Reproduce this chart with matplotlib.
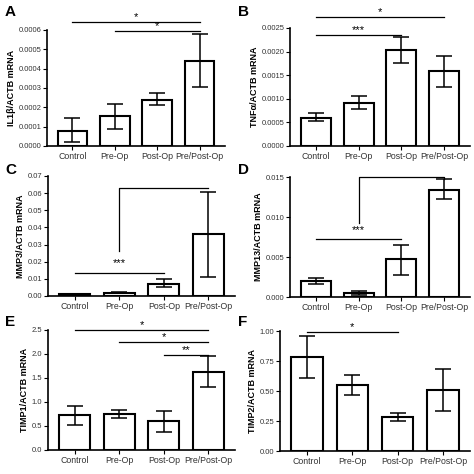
import matplotlib
matplotlib.use("Agg")
import matplotlib.pyplot as plt
plt.rcParams['font.family'] = ['Liberation Sans', 'DejaVu Sans']

cats = ["Control", "Pre-Op", "Post-Op", "Pre/Post-Op"]
a_mean = [0.00008, 0.000155, 0.00024, 0.00044]
a_lo = [0.00002, 0.000088, 0.00021, 0.000303]
a_hi = [0.000143, 0.000218, 0.000273, 0.000577]
b_mean = [0.0006, 0.00092, 0.00203, 0.00158]
b_lo = [0.00053, 0.00079, 0.00176, 0.00124]
b_hi = [0.00069, 0.00106, 0.0023, 0.00191]
c_mean = [0.001, 0.002, 0.0072, 0.036]
c_lo = [0.0007, 0.0015, 0.005, 0.011]
c_hi = [0.0013, 0.0025, 0.0097, 0.0605]
d_mean = [0.0020, 0.0005, 0.0047, 0.0134]
d_lo = [0.0016, 0.0002, 0.0028, 0.0122]
d_hi = [0.0024, 0.0008, 0.0065, 0.0147]
e_mean = [0.72, 0.74, 0.60, 1.63]
e_lo = [0.53, 0.67, 0.38, 1.31]
e_hi = [0.92, 0.83, 0.81, 1.96]
f_mean = [0.78, 0.55, 0.285, 0.505]
f_lo = [0.61, 0.47, 0.25, 0.33]
f_hi = [0.96, 0.63, 0.315, 0.68]

fig = plt.figure(figsize=(4.74, 4.74), dpi=100)
W, H = 474, 474
def ax_at(x0, x1, ytop, ybot):
    return fig.add_axes([x0/W, 1-ybot/H, (x1-x0)/W, (ybot-ytop)/H])

panels = [
    ("A", (47, 225, 30, 146), a_mean, a_lo, a_hi, "IL1β/ACTB mRNA", 0.0006, 0.0001, "%.4f", 12),
    ("B", (290, 470, 28, 146), b_mean, b_lo, b_hi, "TNFα/ACTB mRNA", 0.0025, 0.0005, "%.4f", 12),
    ("C", (48, 235, 176, 296), c_mean, c_lo, c_hi, "MMP3/ACTB mRNA", 0.07, 0.01, "%.2f", 170),
    ("D", (290, 470, 177, 297), d_mean, d_lo, d_hi, "MMP13/ACTB mRNA", 0.015, 0.005, "%.3f", 170),
    ("E", (48, 235, 330, 450), e_mean, e_lo, e_hi, "TIMP1/ACTB mRNA", 2.5, 0.5, "%.1f", 322),
    ("F", (280, 470, 331, 451), f_mean, f_lo, f_hi, "TIMP2/ACTB mRNA", 1.0, 0.25, "%.2f", 322),
]
letter_x = {"A": 5, "B": 238, "C": 5, "D": 238, "E": 5, "F": 238}
axes = {}
x = list(range(4))
for lab, box, m, lo, hi, ylab, ymax, step, fmt, ly in panels:
    ax = ax_at(*box[:4])
    axes[lab] = ax
    err = [[mm - l for mm, l in zip(m, lo)], [h - mm for mm, h in zip(m, hi)]]
    ax.bar(x, m, width=0.7, color="white", edgecolor="black", linewidth=1.5)
    ax.errorbar(x, m, yerr=err, fmt="none", ecolor="black", elinewidth=1.1, capsize=6, capthick=1.1)
    ax.set_xlim(-0.6, 3.6)
    ax.set_ylim(0, ymax)
    n = int(round(ymax/step))
    ax.set_yticks([i*step for i in range(n+1)])
    ax.set_yticklabels([fmt % (i*step) for i in range(n+1)], fontsize=5.5, color="#333333")
    ax.set_xticks(x)
    ax.set_xticklabels(cats, fontsize=6.3, color="#333333")
    ax.set_ylabel(ylab, fontsize=6.5, fontweight="bold", labelpad=2)
    for s in ["top", "right"]:
        ax.spines[s].set_visible(False)
    for s in ["left", "bottom"]:
        ax.spines[s].set_linewidth(1.2)
    ax.tick_params(axis="x", length=3, pad=1)
    ax.tick_params(axis="y", length=3, pad=1)
    fig.text(letter_x[lab]/W, 1-ly/H, lab, fontsize=11, fontweight="bold", va="center")

def sig(ax, x0, x1, y, txt, ty=None):
    ax.plot([x0, x1], [y, y], color="black", lw=0.9, clip_on=False)
    ax.text((x0+x1)/2, ty if ty is not None else y, txt, ha="center", va="bottom", fontsize=8, clip_on=False)

sig(axes["A"], 0, 3, 0.00064, "*")
sig(axes["A"], 1, 3, 0.000595, "*")
sig(axes["B"], 0, 3, 0.00273, "*")
sig(axes["B"], 0, 2, 0.00236, "***")
axc = axes["C"]
axc.plot([1, 1, 3], [0.026, 0.063, 0.063], color="black", lw=0.9, clip_on=False)
sig(axc, 0, 2, 0.0135, "***", 0.016)
axd = axes["D"]
axd.plot([1, 1, 3, 3], [0.0092, 0.0150, 0.0150, 0.0148], color="black", lw=0.9, clip_on=False)
sig(axd, 0, 2, 0.0072, "***", 0.0078)
sig(axes["E"], 0, 3, 2.5, "*")
sig(axes["E"], 1, 3, 2.24, "*")
sig(axes["E"], 2, 3, 1.97, "**")
sig(axes["F"], 0, 2, 0.99, "*")

fig.savefig("out.png", dpi=100)
